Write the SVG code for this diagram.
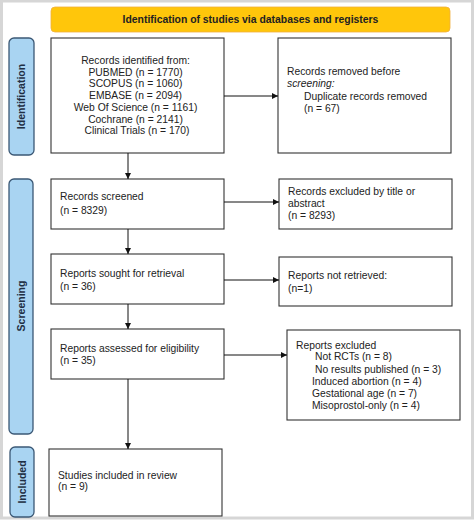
<svg xmlns="http://www.w3.org/2000/svg" width="474" height="520" viewBox="0 0 474 520">
<style>
.box{fill:#fff;stroke:#333;stroke-width:1.1}
.side{fill:#a9d4f2;stroke:#3b5875;stroke-width:1.3}
.t{font-family:"Liberation Sans",Arial,sans-serif;font-size:10.3px;fill:#222}
.c{text-anchor:middle}
.sl{font-family:"Liberation Sans",Arial,sans-serif;font-size:10.5px;font-weight:bold;fill:#1f2f44;text-anchor:middle}
.con{stroke:#111;stroke-width:1;fill:none;marker-end:url(#ah)}
</style>
<defs>
<marker id="ah" viewBox="0 0 10 10" refX="10" refY="5" markerWidth="6" markerHeight="6" orient="auto" markerUnits="userSpaceOnUse">
<path d="M0,0 L10,5 L0,10 z" fill="#111"/>
</marker>
</defs>
<rect x="0" y="0" width="474" height="520" fill="#fff"/>
<rect x="1.5" y="1" width="471" height="517" fill="none" stroke="#d6d6d6" stroke-width="3"/>
<g id="banner">
<rect x="51" y="7" width="399" height="25" rx="4" fill="#ffc60b" stroke="#f0b040" stroke-width="0.8"/>
<text x="250.5" y="22.5" class="t c" style="font-weight:bold;font-size:10.4px">Identification of studies via databases and registers</text>
</g>
<g id="side-identification">
<rect x="9" y="38" width="25" height="117" rx="5" class="side"/>
<text transform="translate(25,96.5) rotate(-90)" class="sl">Identification</text>
</g>
<g id="side-screening">
<rect x="9" y="179" width="24" height="255" rx="5" class="side"/>
<text transform="translate(24.5,306) rotate(-90)" class="sl">Screening</text>
</g>
<g id="side-included">
<rect x="10" y="447" width="24" height="70" rx="5" class="side"/>
<text transform="translate(25.5,482) rotate(-90)" class="sl">Included</text>
</g>
<g id="records-identified">
<rect x="51" y="38" width="173" height="115" class="box"/>
<text class="t c" x="137">
<tspan x="137" y="64">Records identified from:</tspan>
<tspan x="137" y="75.5">PUBMED (n = 1770)</tspan>
<tspan x="137" y="87">SCOPUS (n = 1060)</tspan>
<tspan x="137" y="99">EMBASE (n = 2094)</tspan>
<tspan x="137" y="111">Web Of Science (n = 1161)</tspan>
<tspan x="137" y="122.5">Cochrane (n = 2141)</tspan>
<tspan x="137" y="134">Clinical Trials (n = 170)</tspan>
</text>
</g>
<g id="records-removed">
<rect x="278" y="38" width="173" height="115" class="box"/>
<text class="t"><tspan x="287" y="75">Records removed before</tspan><tspan x="287" y="87" font-style="italic">screening:</tspan><tspan x="304" y="99.5">Duplicate records removed</tspan><tspan x="304" y="111.5">(n = 67)</tspan></text>
</g>
<g id="records-screened">
<rect x="51" y="179" width="173" height="50" class="box"/>
<text class="t"><tspan x="60" y="200">Records screened</tspan><tspan x="60" y="213.5">(n = 8329)</tspan></text>
</g>
<g id="records-excluded">
<rect x="279" y="179" width="173" height="50" class="box"/>
<text class="t"><tspan x="288" y="195">Records excluded by title or</tspan><tspan x="288" y="207">abstract</tspan><tspan x="288" y="218.5">(n = 8293)</tspan></text>
</g>
<g id="reports-sought">
<rect x="51" y="254" width="173" height="50" class="box"/>
<text class="t"><tspan x="60" y="277">Reports sought for retrieval</tspan><tspan x="60" y="289.5">(n = 36)</tspan></text>
</g>
<g id="reports-not-retrieved">
<rect x="279" y="257" width="173" height="49" class="box"/>
<text class="t"><tspan x="288" y="279">Reports not retrieved:</tspan><tspan x="288" y="291.5">(n=1)</tspan></text>
</g>
<g id="reports-assessed">
<rect x="51" y="329" width="173" height="50" class="box"/>
<text class="t"><tspan x="60" y="352">Reports assessed for eligibility</tspan><tspan x="60" y="364">(n = 35)</tspan></text>
</g>
<g id="reports-excluded">
<rect x="287" y="330" width="173" height="90" class="box"/>
<text class="t"><tspan x="296" y="349">Reports excluded</tspan><tspan x="315" y="360">Not RCTs (n = 8)</tspan><tspan x="315" y="372.5">No results published (n = 3)</tspan><tspan x="312" y="385">Induced abortion (n = 4)</tspan><tspan x="312" y="396.5">Gestational age (n = 7)</tspan><tspan x="312" y="408.5">Misoprostol-only (n = 4)</tspan></text>
</g>
<g id="studies-included">
<rect x="49" y="449" width="173" height="67" class="box"/>
<text class="t"><tspan x="58" y="479">Studies included in review</tspan><tspan x="58" y="490">(n = 9)</tspan></text>
</g>
<g id="connectors">
<line x1="224" y1="96" x2="278" y2="96" class="con"/>
<line x1="128" y1="153" x2="128" y2="179" class="con"/>
<line x1="224" y1="202" x2="279" y2="202" class="con"/>
<line x1="128" y1="229" x2="128" y2="254" class="con"/>
<line x1="224" y1="280" x2="279" y2="280" class="con"/>
<line x1="128" y1="304" x2="128" y2="329" class="con"/>
<line x1="224" y1="355" x2="287" y2="355" class="con"/>
<line x1="128" y1="379" x2="128" y2="449" class="con"/>
</g>
</svg>
